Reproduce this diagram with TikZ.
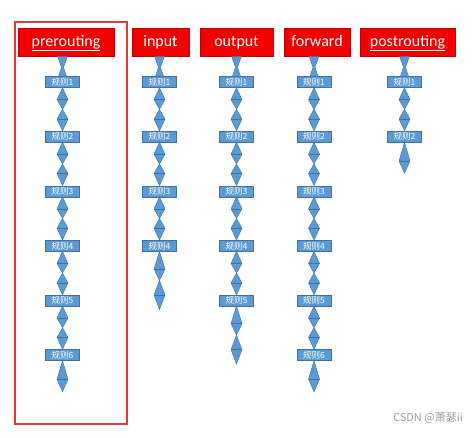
\documentclass[tikz,border=0pt]{standalone}
\usepackage{fontspec}
\setmainfont{Carlito}
\newfontfamily\cjk{Noto Sans CJK SC}
\usetikzlibrary{calc}
\definecolor{hdrred}{HTML}{F20000}
\definecolor{boxblue}{HTML}{5B9BD5}
\definecolor{boxedge}{HTML}{41719C}
\definecolor{framered}{HTML}{E53935}
\tikzset{
  hdr/.style={fill=hdrred, draw=hdrred!80!black, line width=0.5pt, minimum height=28pt, inner sep=0pt, text=white, text height=9pt, text depth=1pt, font=\fontsize{16}{16}\selectfont},
  rulebox/.style={fill=boxblue, draw=boxedge, line width=0.4pt, minimum width=34pt, minimum height=11pt, inner sep=0pt, text=white, font=\cjk\fontsize{8.5}{8.5}\selectfont},
  conn/.style={fill=boxblue, draw=boxedge, line width=0.4pt},
  midline/.style={draw=boxedge, line width=0.3pt},
  outframe/.style={draw=framered, line width=1.5pt}
}
% diamond between two coordinates, widest at fraction #3
\newcommand\dmd[3]{%
  \filldraw[conn] (#1) -- ($(#1)!#3!(#2)+(5.5,0)$) -- (#2) -- ($(#1)!#3!(#2)+(-5.5,0)$) -- cycle;
  \draw[midline] ($(#1)!#3!(#2)+(-5.5,0)$) -- ($(#1)!#3!(#2)+(5.5,0)$);}
% hourglass from header to first rule
\newcommand\hglass[2]{%
  \coordinate (#1top) at (#1.south -| #2.north);
  \coordinate (#1neck) at ($(#1top)!0.55!(#2.north)$);
  \filldraw[conn] ($(#1top)+(-5,0)$) -- ($(#1top)+(5,0)$) -- ($(#1neck)+(1,0)$) -- ($(#2.north)+(4,0)$) -- ($(#2.north)+(-4,0)$) -- ($(#1neck)+(-1,0)$) -- cycle;}
% double diamond between two boxes
\newcommand\dconn[2]{%
  \coordinate (#1mid) at ($(#1.south)!0.5!(#2.north)$);
  \dmd{#1.south}{#1mid}{0.55}
  \dmd{#1mid}{#2.north}{0.45}}
% a column: id, header x, header width, label, column x, number of rules, terminal type (1 or 2)
\newcommand\chaincol[7]{%
  \node[hdr, minimum width=#3pt] (#1h) at (#2,42) {#4};
  \foreach \i in {1,...,#6}{
    \node[rulebox] (#1r\i) at (#5,{82+54.6*(\i-1)}) {规则\i};
  }
  \hglass{#1h}{#1r1}
  \pgfmathtruncatemacro\lastm{#6-1}
  \ifnum#6>1
  \foreach \i in {1,...,\lastm}{
    \pgfmathtruncatemacro\j{\i+1}
    \dconn{#1r\i}{#1r\j}
  }
  \fi
  \ifnum#7=1
    \coordinate (#1end) at ($(#1r#6.south)+(0,31)$);
    \dmd{#1r#6.south}{#1end}{0.6}
  \else
    \coordinate (#1tmid) at ($(#1r#6.south)+(0,29)$);
    \coordinate (#1end) at ($(#1r#6.south)+(0,58)$);
    \dmd{#1r#6.south}{#1tmid}{0.6}
    \dmd{#1tmid}{#1end}{0.5}
  \fi
}
\begin{document}
\begin{tikzpicture}[x=1pt,y=-1pt]
\useasboundingbox (0,0) rectangle (474,437);
\fill[white] (0,0) rectangle (474,437);
\draw[outframe] (15,22) rectangle (127,424);
\chaincol{pre}{66}{96}{\underline{prerouting}}{62.5}{6}{1}
\chaincol{inp}{160.5}{57}{input}{159.5}{4}{2}
\chaincol{out}{236.5}{73}{output}{236.5}{5}{2}
\chaincol{fwd}{317}{66}{forward}{314}{6}{1}
\chaincol{post}{407.5}{95}{\underline{postrouting}}{404.5}{2}{1}
\node[font=\cjk\fontsize{11}{11}\selectfont, text=gray!75, anchor=east, inner sep=0pt] (wm) at (463,418) {CSDN @萧瑟ii};
\end{tikzpicture}
\end{document}
